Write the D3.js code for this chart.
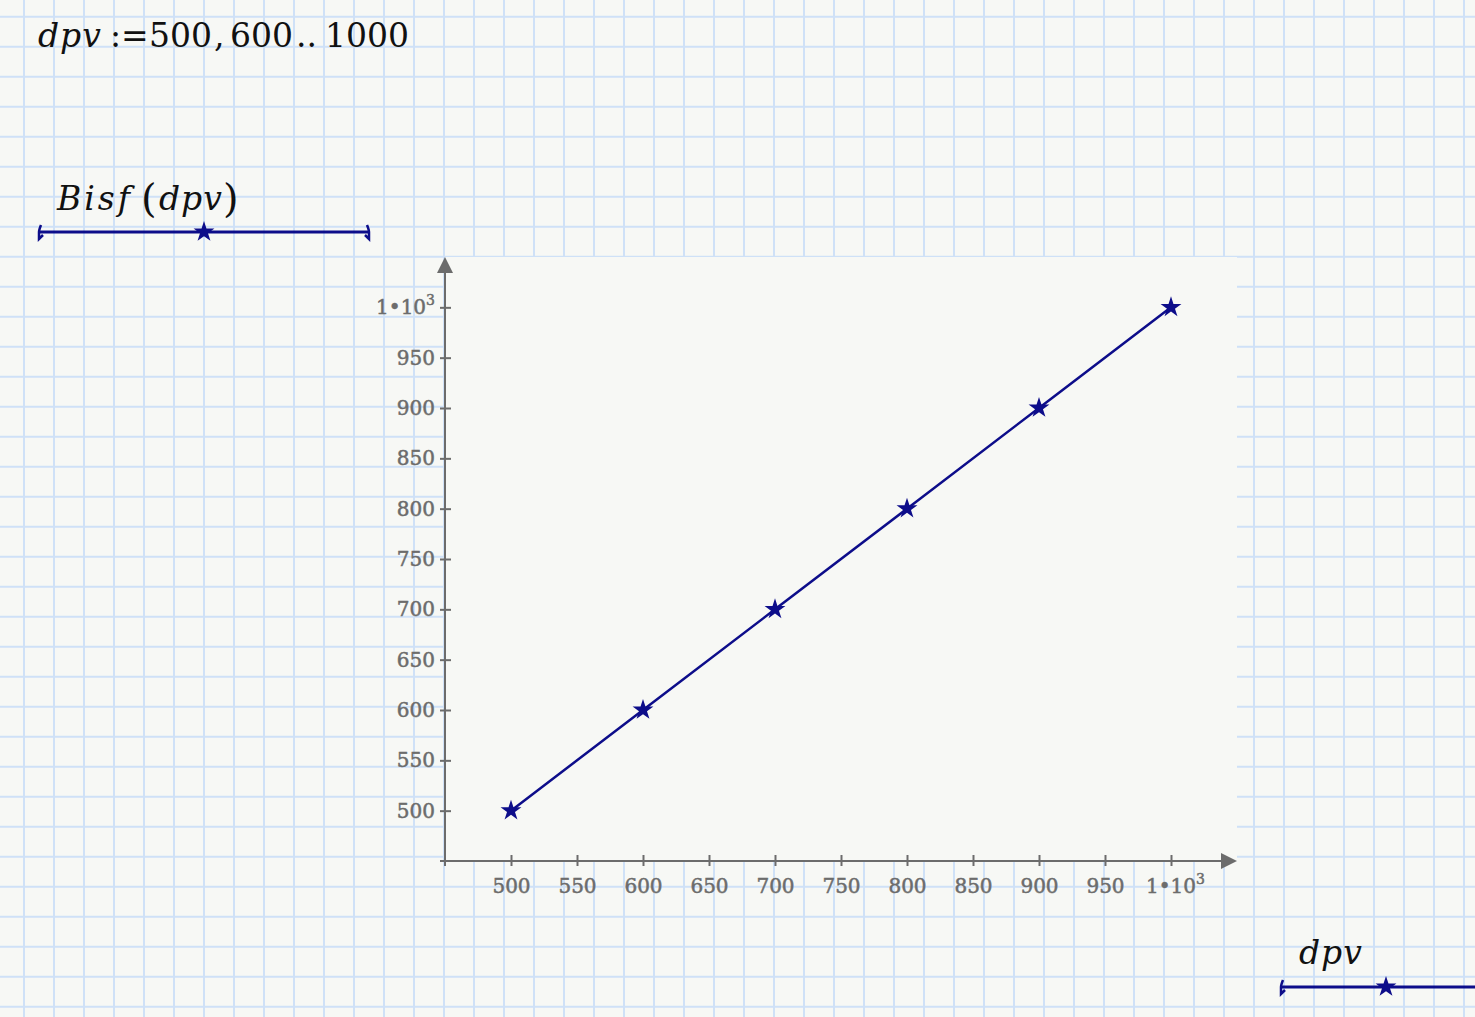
<!DOCTYPE html>
<html>
<head>
<meta charset="utf-8">
<script src="https://cdn.jsdelivr.net/npm/d3@7"></script>
<style>
  body { margin: 0; background: #f7f8f5; overflow: hidden; }
  svg { display: block; }
</style>
</head>
<body>
<script>
var W = 1475, H = 1017;

// range variable dpv and the function values Bisf(dpv)
var dpv = [500, 600, 700, 800, 900, 1000];
var bisf = [500, 600, 700, 800, 900, 1000];
var xTicks = [500, 550, 600, 650, 700, 750, 800, 850, 900, 950, 1000];
var yTicks = [500, 550, 600, 650, 700, 750, 800, 850, 900, 950, 1000];

var lineColor = "#0d0d8a";
var axisColor = "#6c6c6c";
var gridColor = "#cfe1f7";
var mathFont = "DejaVu Serif, serif";

var plot = { left: 445, right: 1237, top: 257, bottom: 861 };

var svg = d3.select("body").append("svg")
    .attr("width", W)
    .attr("height", H);

svg.append("rect")
    .attr("width", W).attr("height", H)
    .attr("fill", "#f7f8f5");

// graph paper
var grid = svg.append("g").attr("stroke", gridColor).attr("stroke-width", 2);
grid.selectAll("line.v")
    .data(d3.range(24, W, 30))
    .join("line")
    .attr("class", "v")
    .attr("x1", d => d).attr("x2", d => d)
    .attr("y1", 0).attr("y2", H);
grid.selectAll("line.h")
    .data(d3.range(16.7, H, 30))
    .join("line")
    .attr("class", "h")
    .attr("y1", d => d).attr("y2", d => d)
    .attr("x1", 0).attr("x2", W);

// definition text
var def = svg.append("text")
    .attr("y", 47)
    .attr("font-family", mathFont)
    .attr("font-size", 33)
    .attr("fill", "#111");
def.append("tspan").attr("x", 38).attr("font-style", "italic").attr("letter-spacing", 1).text("dpv");
def.append("tspan").attr("x", 110).text(":=");
def.append("tspan").attr("x", 149).text("500");
def.append("tspan").attr("x", 214).text(",");
def.append("tspan").attr("x", 230).text("600");
def.append("tspan").attr("x", 296).text("..");
def.append("tspan").attr("x", 325).text("1000");

// plot area
svg.append("rect")
    .attr("x", plot.left).attr("y", plot.top)
    .attr("width", plot.right - plot.left)
    .attr("height", plot.bottom - plot.top)
    .attr("fill", "#f7f8f5");

var x = d3.scaleLinear([450, 1050], [plot.left, plot.right]);
var y = d3.scaleLinear([450, 1050], [plot.bottom, plot.top]);

function tickText(sel) {
    sel.each(function (d) {
        var t = d3.select(this);
        if (d === 1000) {
            t.text("");
            t.append("tspan").text("1\u2022");
            t.append("tspan").text("10");
            t.append("tspan").attr("font-size", 14).attr("dy", -9).text("3");
        }
    });
}

var yAxis = svg.append("g")
    .attr("transform", `translate(${plot.left},0)`)
    .call(d3.axisLeft(y).tickValues(yTicks).tickSize(5).tickPadding(5).tickFormat(d3.format("d")));

var xAxis = svg.append("g")
    .attr("transform", `translate(0,${plot.bottom})`)
    .call(d3.axisBottom(x).tickValues(xTicks).tickSize(5).tickPadding(13).tickFormat(d3.format("d")));

[yAxis, xAxis].forEach(function (g) {
    g.select(".domain").remove();
    g.selectAll(".tick line").attr("stroke", axisColor).attr("stroke-width", 2);
    g.selectAll(".tick text")
        .attr("fill", axisColor)
        .attr("font-family", mathFont)
        .attr("font-size", 20)
        .attr("stroke", axisColor)
        .attr("stroke-width", 0.5)
        .call(tickText);
});
yAxis.selectAll(".tick line").attr("x1", 6);
xAxis.selectAll(".tick line").attr("y1", -6);
xAxis.selectAll(".tick").filter(d => d === 1000).select("text").attr("dx", 4);

// axis lines with arrow heads
var ax = svg.append("g").attr("stroke", axisColor).attr("stroke-width", 2);
ax.append("line")
    .attr("x1", plot.left).attr("x2", plot.left)
    .attr("y1", plot.bottom + 5).attr("y2", plot.top + 12);
ax.append("line")
    .attr("x1", plot.left - 5).attr("x2", plot.right - 12)
    .attr("y1", plot.bottom).attr("y2", plot.bottom);
svg.append("path")
    .attr("d", `M${plot.left},${plot.top} L${plot.left - 8},${plot.top + 16} L${plot.left + 8},${plot.top + 16} Z`)
    .attr("fill", axisColor);
svg.append("path")
    .attr("d", `M${plot.right},${plot.bottom} L${plot.right - 16},${plot.bottom - 8} L${plot.right - 16},${plot.bottom + 8} Z`)
    .attr("fill", axisColor);

// trace
var pts = dpv.map((d, i) => [d, bisf[i]]);
svg.append("path")
    .datum(pts)
    .attr("fill", "none")
    .attr("stroke", lineColor)
    .attr("stroke-width", 2.5)
    .attr("d", d3.line().x(d => x(d[0])).y(d => y(d[1])));

var star = d3.symbol().type(d3.symbolStar).size(135);
svg.selectAll("path.pt")
    .data(pts)
    .join("path")
    .attr("class", "pt")
    .attr("transform", d => `translate(${x(d[0])},${y(d[1])})`)
    .attr("d", star)
    .attr("fill", lineColor);

// axis expressions with trace samples
function legendLine(x0, x1, yy, xs, endRight) {
    var g = svg.append("g");
    g.append("line")
        .attr("x1", x0).attr("x2", x1)
        .attr("y1", yy).attr("y2", yy)
        .attr("stroke", lineColor).attr("stroke-width", 3);
    var ends = endRight ? [x0, x1] : [x0];
    ends.forEach(function (e, i) {
        var s = i === 0 ? 1 : -1;
        g.append("path")
            .attr("d", `M${e + 2 * s},${yy - 7} Q${e},${yy - 2} ${e},${yy} L${e},${yy + 7} L${e + 4 * s},${yy + 3}`)
            .attr("fill", "none")
            .attr("stroke", lineColor).attr("stroke-width", 2.5);
    });
    g.append("path")
        .attr("transform", `translate(${xs},${yy})`)
        .attr("d", star)
        .attr("fill", lineColor);
}

var yLabel = svg.append("text")
    .attr("y", 210)
    .attr("font-family", mathFont)
    .attr("font-size", 33)
    .attr("fill", "#111");
yLabel.append("tspan").attr("x", 57).attr("font-style", "italic").attr("letter-spacing", 3).text("Bisf");
yLabel.append("tspan").attr("x", 141).attr("font-size", 40).attr("dy", 2).text("(");
yLabel.append("tspan").attr("x", 159).attr("dy", -2).attr("font-style", "italic").attr("letter-spacing", 1).text("dpv");
yLabel.append("tspan").attr("x", 223).attr("font-size", 40).attr("dy", 2).text(")");
legendLine(39, 369, 232, 204, true);

svg.append("text")
    .attr("x", 1299).attr("y", 964)
    .attr("font-family", mathFont)
    .attr("font-style", "italic")
    .attr("font-size", 33)
    .attr("letter-spacing", 1)
    .attr("fill", "#111")
    .text("dpv");
legendLine(1281, W + 5, 987, 1386, false);
</script>
</body>
</html>
